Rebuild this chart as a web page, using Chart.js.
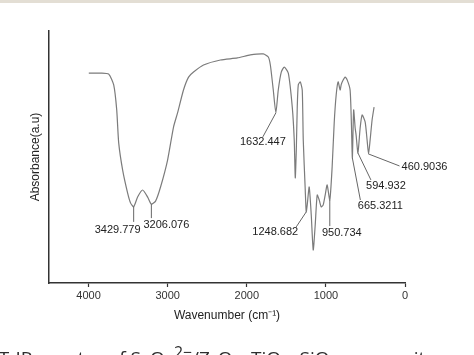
<!DOCTYPE html>
<html>
<head>
<meta charset="utf-8">
<script src="https://cdn.jsdelivr.net/npm/chart.js@4.4.0/dist/chart.umd.min.js"></script>
<style>
  html, body { margin: 0; padding: 0; background: #fff; }
  #wrap { position: relative; width: 474px; height: 355px; overflow: hidden; background: #fff; }
  #strip { position: absolute; left: 0; top: 0; width: 474px; height: 3px; background: #e3ded4; }
  #chart { position: absolute; left: 0; top: 0; }
  #caption {
    position: absolute; left: -11px; top: 343px; white-space: nowrap;
    font-family: "Open Sans", sans-serif; font-size: 19px; line-height: 19px; color: #2e2e2e;
  }
</style>
</head>
<body>
<div id="wrap">
  <canvas id="chart" width="474" height="355"></canvas>
  <div id="strip"></div>
  <div id="caption">FT-IR spectra of S<sub>2</sub>O<sub>8</sub><sup>2&minus;</sup>/ZrO<sub>2</sub>&ndash;TiO<sub>2</sub>&ndash;SiO<sub>2</sub> composites</div>
</div>
<script>
// spectrum (wavenumber in cm-1, absorbance in a.u.)
var wavenumber = [3997, 3846, 3745, 3682, 3644, 3619, 3569, 3506, 3468, 3429.8, 3380, 3317, 3253, 3206.1, 3153, 3090,
  3001, 2926, 2875, 2800, 2736, 2673, 2547, 2333, 2119, 1955, 1791, 1728, 1702, 1665, 1632.4, 1602, 1564, 1526,
  1475, 1425, 1400, 1387, 1374, 1362, 1349, 1324, 1299, 1286, 1261, 1248.7, 1236, 1211, 1185, 1160, 1135, 1110,
  1084, 1059, 1034, 1009, 984, 950.7, 921, 895, 870, 845, 820, 807, 794, 757, 731, 694, 677, 665.3, 649, 630, 618,
  594.9, 567, 542, 504, 479, 460.9, 441, 416, 391];
var absorbance = [83.3, 83.3, 82.9, 78.6, 68.7, 55.6, 44.8, 35.7, 31.7, 30.2, 34.1, 36.9, 34.1, 31.3, 32.5, 38.1,
  48.8, 61.9, 67.5, 76.6, 81.7, 83.7, 86.5, 88.5, 89.3, 90.5, 90.9, 89.7, 86.5, 76.6, 67.5, 76.6, 83.7, 85.7,
  83.3, 69.8, 56.7, 41.7, 52.8, 69.8, 78.6, 79.8, 76.6, 56.7, 36.9, 28.2, 31, 38.1, 27, 13.1, 23, 34.9,
  32.9, 30.2, 31, 34.9, 38.9, 32.9, 46, 63.5, 74.6, 79.8, 76.6, 78.6, 79.8, 81.7, 80.6, 76.6, 62.7, 49.6, 68.7, 61.5, 58.7,
  51.6, 61.5, 66.7, 63.9, 56.7, 51.2, 56.7, 64.7, 69.8];

var peakPositions = [3429.8, 3206.1, 1632.4, 1248.7, 950.7, 665.3, 594.9, 460.9];
var peakLabels = ['3429.779', '3206.076', '1632.447', '1248.682', '950.734', '665.3211', '594.932', '460.9036'];
var tickValues = [4000, 3000, 2000, 1000, 0];

// leader line end and text centre, relative to the peak point
var leaderEnd = [[0, 15], [0, 14], [-13, 24], [-10, 15], [0, 26], [8, 42], [13, 27], [31, 12]];
var textOffset = [[-16, 23], [15, 21], [-13, 29], [-31, 20], [12, 33], [28, 48], [28, 33], [56, 13]];

var points = [];
wavenumber.forEach(function (w, i) {
  points.push({x: w, y: absorbance[i]});
});

var peakLabelPlugin = {
  id: 'peakLabels',
  afterDatasetsDraw: function (chart) {
    var ctx = chart.ctx;
    var xs = chart.scales.x, ys = chart.scales.y;
    ctx.save();
    ctx.strokeStyle = '#666';
    ctx.lineWidth = 1;
    ctx.fillStyle = '#222';
    ctx.font = '11px "Liberation Sans", Arial, sans-serif';
    ctx.textAlign = 'center';
    ctx.textBaseline = 'middle';
    peakPositions.forEach(function (p, i) {
      var idx = wavenumber.indexOf(p);
      var px = xs.getPixelForValue(p);
      var py = ys.getPixelForValue(absorbance[idx]);
      ctx.beginPath();
      ctx.moveTo(px, py);
      ctx.lineTo(px + leaderEnd[i][0], py + leaderEnd[i][1]);
      ctx.stroke();
      ctx.fillText(peakLabels[i], px + textOffset[i][0], py + textOffset[i][1]);
    });
    ctx.restore();
  }
};

var ctx = document.getElementById('chart').getContext('2d');
var chart = new Chart(ctx, {
  type: 'line',
  data: {
    datasets: [{
      data: points,
      borderColor: '#7b7b7b',
      borderWidth: 1.2,
      pointRadius: 0,
      tension: 0.2,
      fill: false
    }]
  },
  options: {
    responsive: false,
    animation: false,
    layout: {padding: {top: 31, right: 69, bottom: 27, left: 0}},
    plugins: {legend: {display: false}, tooltip: {enabled: false}},
    scales: {
      x: {
        type: 'linear',
        reverse: true,
        min: 0,
        max: 4500,
        afterBuildTicks: function (scale) {
          scale.ticks = tickValues.map(function (v) { return {value: v}; });
        },
        afterFit: function (scale) { scale.height = 45; },
        grid: {drawOnChartArea: false, tickLength: 4, color: '#333', tickWidth: 1.2},
        border: {display: true, color: '#333', width: 1.5},
        ticks: {
          padding: 2,
          color: '#333',
          maxRotation: 0,
          font: {family: '"Liberation Sans", Arial, sans-serif', size: 11},
          callback: function (v) { return v; }
        },
        title: {
          display: true,
          text: 'Wavenumber (cm\u207B\u00B9)',
          color: '#222',
          font: {family: '"Liberation Sans", Arial, sans-serif', size: 12},
          padding: {top: 0, bottom: 5}
        }
      },
      y: {
        min: 0,
        max: 100,
        afterFit: function (scale) { scale.width = 49; },
        grid: {drawOnChartArea: false, drawTicks: false},
        border: {display: true, color: '#333', width: 1.5},
        ticks: {display: false},
        title: {
          display: true,
          text: 'Absorbance(a.u)',
          color: '#222',
          font: {family: '"Liberation Sans", Arial, sans-serif', size: 12},
          padding: {top: 28, bottom: 0}
        }
      }
    }
  },
  plugins: [peakLabelPlugin]
});
</script>
</body>
</html>
